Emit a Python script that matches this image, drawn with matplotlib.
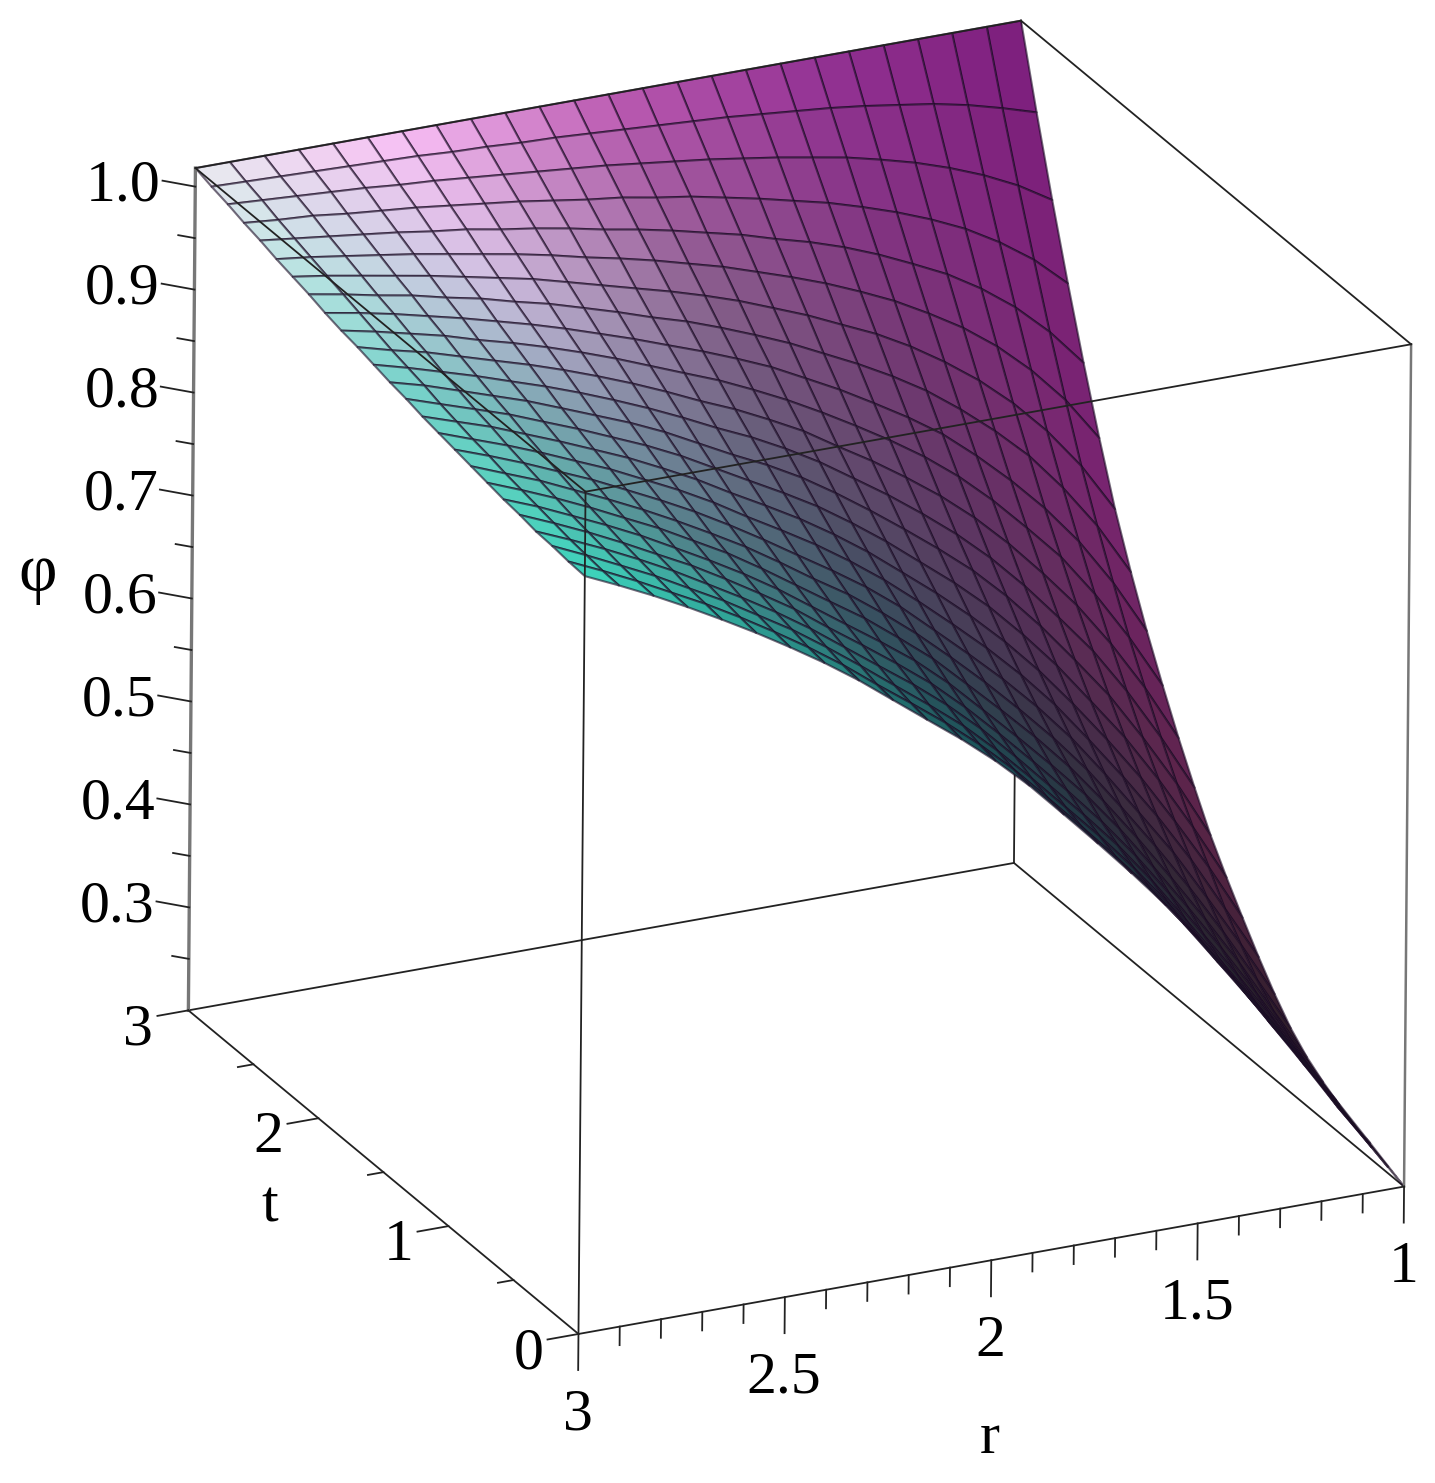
import numpy as np
import matplotlib
matplotlib.use('Agg')
import matplotlib.pyplot as plt
from mpl_toolkits.mplot3d import proj3d

r_values = [1.000, 1.083, 1.167, 1.250, 1.333, 1.417, 1.500, 1.583, 1.667, 1.750, 1.833, 1.917, 2.000,
            2.083, 2.167, 2.250, 2.333, 2.417, 2.500, 2.583, 2.667, 2.750, 2.833, 2.917, 3.000]
t_values = [0.000, 0.125, 0.250, 0.375, 0.500, 0.625, 0.750, 0.875, 1.000, 1.125, 1.250, 1.375, 1.500,
            1.625, 1.750, 1.875, 2.000, 2.125, 2.250, 2.375, 2.500, 2.625, 2.750, 2.875, 3.000]

# phi, in thousandths. one row per t, one column per r
phi_milli = [
    [200, 248, 296, 343, 388, 432, 475, 515, 552, 587, 621, 655, 685, 712, 737, 762, 787, 810, 831, 851, 870, 888, 905, 921, 936],
    [206, 252, 300, 346, 391, 435, 478, 518, 555, 590, 624, 658, 688, 715, 740, 764, 789, 812, 833, 853, 872, 889, 906, 922, 937],
    [212, 257, 305, 351, 397, 441, 485, 525, 562, 596, 630, 663, 693, 719, 744, 769, 793, 816, 836, 856, 874, 892, 908, 924, 939],
    [219, 265, 313, 360, 405, 450, 494, 534, 570, 604, 638, 671, 700, 726, 750, 774, 798, 820, 840, 859, 878, 895, 911, 926, 940],
    [227, 274, 324, 371, 416, 462, 505, 544, 580, 614, 647, 679, 708, 733, 757, 780, 804, 825, 845, 864, 881, 898, 914, 929, 943],
    [236, 285, 336, 384, 430, 475, 518, 557, 592, 625, 657, 689, 717, 741, 764, 787, 810, 831, 850, 868, 886, 902, 917, 932, 945],
    [247, 298, 351, 399, 445, 490, 532, 571, 606, 638, 669, 700, 726, 751, 773, 795, 817, 838, 856, 874, 890, 906, 921, 935, 948],
    [262, 315, 368, 417, 463, 507, 549, 586, 620, 652, 682, 711, 737, 761, 782, 804, 825, 844, 862, 879, 895, 910, 925, 938, 951],
    [282, 336, 388, 438, 482, 526, 567, 603, 636, 666, 695, 724, 749, 771, 792, 813, 833, 852, 869, 885, 901, 915, 929, 942, 954],
    [305, 358, 412, 460, 504, 546, 586, 621, 653, 682, 710, 737, 761, 783, 803, 822, 842, 860, 876, 892, 906, 920, 933, 945, 957],
    [330, 385, 436, 484, 527, 568, 606, 640, 671, 699, 725, 751, 774, 795, 814, 832, 851, 868, 884, 898, 912, 925, 938, 949, 960],
    [356, 411, 463, 510, 551, 592, 628, 661, 690, 716, 742, 766, 788, 807, 825, 843, 861, 877, 891, 905, 918, 931, 942, 953, 964],
    [384, 440, 491, 538, 578, 617, 652, 683, 710, 735, 759, 782, 803, 821, 837, 854, 871, 886, 899, 912, 925, 936, 947, 958, 967],
    [417, 472, 523, 568, 606, 643, 676, 705, 731, 755, 777, 799, 818, 835, 850, 866, 881, 895, 908, 920, 931, 942, 952, 962, 971],
    [452, 507, 556, 599, 636, 671, 702, 729, 753, 775, 795, 816, 833, 849, 863, 878, 892, 905, 917, 928, 938, 948, 958, 966, 975],
    [490, 543, 591, 633, 667, 700, 729, 754, 776, 796, 815, 833, 849, 864, 877, 890, 903, 915, 926, 936, 945, 955, 963, 971, 978],
    [530, 583, 629, 667, 700, 730, 757, 779, 799, 818, 835, 852, 866, 879, 891, 903, 914, 925, 935, 944, 953, 961, 969, 976, 982],
    [574, 625, 668, 705, 735, 762, 786, 806, 824, 840, 856, 870, 883, 895, 905, 916, 926, 936, 944, 953, 960, 968, 974, 981, 987],
    [622, 670, 710, 743, 771, 795, 816, 834, 849, 864, 877, 890, 901, 911, 920, 929, 938, 947, 954, 961, 968, 974, 980, 986, 991],
    [678, 721, 756, 785, 809, 829, 847, 862, 876, 888, 899, 910, 919, 928, 936, 943, 951, 958, 964, 970, 976, 981, 986, 991, 995],
    [738, 774, 804, 828, 848, 864, 879, 892, 903, 912, 922, 930, 938, 945, 951, 958, 964, 969, 975, 979, 984, 988, 992, 996, 1000],
    [802, 831, 854, 873, 888, 901, 912, 922, 930, 938, 945, 952, 957, 963, 967, 972, 977, 981, 985, 989, 992, 995, 999, 1001, 1004],
    [870, 890, 906, 919, 930, 939, 947, 953, 959, 964, 969, 973, 977, 981, 984, 987, 990, 993, 996, 998, 1001, 1003, 1005, 1007, 1009],
    [942, 952, 961, 968, 973, 978, 982, 985, 988, 991, 993, 995, 997, 999, 1001, 1002, 1004, 1005, 1007, 1008, 1009, 1010, 1011, 1012, 1013],
    [1018, 1018, 1018, 1018, 1018, 1018, 1018, 1018, 1018, 1018, 1018, 1018, 1018, 1018, 1018, 1018, 1018, 1018, 1018, 1018, 1018, 1018, 1018, 1018, 1018],
]

phi_ticks = [0.3, 0.4, 0.5, 0.6, 0.7, 0.8, 0.9, 1.0]
phi_minor = [0.25, 0.35, 0.45, 0.55, 0.65, 0.75, 0.85, 0.95]
t_ticks = [0, 1, 2, 3]
t_minor = [0.5, 1.5, 2.5]
r_ticks = [3, 2.5, 2, 1.5, 1]
r_labels = ['3', '2.5', '2', '1.5', '1']
r_minor = [2.9, 2.8, 2.7, 2.6, 2.4, 2.3, 2.2, 2.1, 1.9, 1.8, 1.7, 1.6, 1.4, 1.3, 1.2, 1.1]

# colours: rows run t=0 to t=3, columns r=3 to r=1
colour_table = np.array([
    [(60, 215, 190), (40, 150, 140), (25, 80, 85), (25, 40, 50), (25, 20, 25)],
    [(90, 215, 195), (80, 125, 135), (50, 75, 90), (50, 45, 60), (45, 30, 40)],
    [(120, 215, 205), (130, 150, 170), (90, 85, 110), (85, 50, 90), (90, 35, 70)],
    [(180, 230, 225), (210, 190, 225), (135, 95, 140), (115, 55, 115), (120, 35, 110)],
    [(235, 235, 240), (250, 190, 245), (190, 90, 180), (150, 50, 150), (125, 30, 125)],
], dtype=float) / 255

PHI_MIN = 0.2
PHI_MAX = 1.018

plt.rcParams['font.family'] = ['Liberation Serif', 'DejaVu Serif']

fig = plt.figure(figsize=(14.35, 14.83), dpi=100)
ax = fig.add_axes([0.0438, 0.0464, 1, 0.9676], projection='3d', proj_type='ortho', computed_zorder=False)
ax.set_box_aspect((915, 910, 916), zoom=1.0695)
ax.view_init(elev=23.0, azim=-115.6, roll=-0.48)
ax.set_xlim(3, 1)
ax.set_ylim(0, 3)
ax.set_zlim(PHI_MIN, PHI_MAX)
ax.set_axis_off()

R, T = np.meshgrid(r_values, t_values)
PHI = np.array(phi_milli) / 1000

# colour of each cell, looked up from its middle
s = (3 - (R[:-1, :-1] + R[1:, 1:]) / 2) / 2 * 4
v = (T[:-1, :-1] + T[1:, 1:]) / 2 / 3 * 4
colours = np.ones(s.shape + (4,))
for i in range(s.shape[0]):
    for j in range(s.shape[1]):
        i0 = min(int(v[i, j]), 3)
        j0 = min(int(s[i, j]), 3)
        fv = v[i, j] - i0
        fs = s[i, j] - j0
        colours[i, j, :3] = (colour_table[i0, j0] * (1 - fv) * (1 - fs) + colour_table[i0 + 1, j0] * fv * (1 - fs)
                             + colour_table[i0, j0 + 1] * (1 - fv) * fs + colour_table[i0 + 1, j0 + 1] * fv * fs)

surf = ax.plot_surface(R, T, PHI, rstride=1, cstride=1, facecolors=colours, shade=False, zorder=2)
surf.set_edgecolor((0.10, 0.04, 0.14, 0.6))
surf.set_linewidth(1.5)


def line(a, b, zo=3, color='#222222', lw=1.3):
    ax.plot([a[0], b[0]], [a[1], b[1]], [a[2], b[2]], color=color, lw=lw, zorder=zo)


def label(r, t, phi, text, size=43):
    x, y, _ = proj3d.proj_transform(r, t, phi, ax.get_proj())
    ax.text2D(x, y, text, transform=ax.transData, fontsize=size, ha='center', va='center')


lo = PHI_MIN
hi = PHI_MAX
# box edges, those behind the surface first
line((1, 3, lo), (1, 3, hi), 1)
line((1, 3, lo), (3, 3, lo), 1)
line((1, 3, lo), (1, 0, lo), 1)
line((3, 3, lo), (3, 3, hi), 3, '#777777', 2.4)
line((1, 0, lo), (1, 0, hi), 3, '#777777', 1.8)
line((3, 0, lo), (3, 0, hi))
line((3, 3, lo), (3, 0, lo))
line((3, 0, lo), (1, 0, lo))
line((3, 3, hi), (1, 3, hi))
line((3, 3, hi), (3, 0, hi))
line((3, 0, hi), (1, 0, hi))
line((1, 3, hi), (1, 0, hi))

for p_ in phi_ticks:
    line((3, 3, p_), (3.051, 3.09, p_))
    label(3.136, 3.121, p_ - 0.003, '%.1f' % p_)
for p_ in phi_minor:
    line((3, 3, p_), (3.026, 3.045, p_))
for t_ in t_ticks:
    line((3, t_, lo), (3.075, t_, lo))
    label(3.143, t_ - 0.069, lo - 0.002, str(t_))
for t_ in t_minor:
    line((3, t_, lo), (3.0375, t_, lo))
for r_, lab in zip(r_ticks, r_labels):
    line((r_, 0, lo), (r_, 0, lo - 0.035))
    label(r_, 0, 0.121, lab)
for r_ in r_minor:
    line((r_, 0, lo), (r_, 0, lo - 0.018))

label(2, 0, 0.026, 'r')
label(3.305, 1.404, lo - 0.002, 't')
label(3.25, 3.39, 0.6, 'φ', 48)

fig.savefig('out.png', dpi=100)
